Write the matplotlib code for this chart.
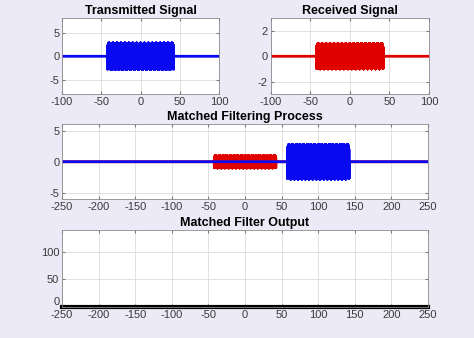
import numpy as np
import matplotlib.pyplot as plt

# values
pulse_edges = [-42, 42]          # where the pulse is on (time units)
tx_amplitude = 2.8               # transmitted pulse peak
rx_amplitude = 1.0               # received pulse peak
template_shift = 100             # where the sliding template sits in the process plot
carrier_period = 0.15            # carrier period of the pulse
scallop_period = 5.0             # ripple seen on the pulse edges
output_x = [-250, 250]
output_y = [0, 0]                # matched filter output at this frame

top_xlim = [-100, 100]
top_xticks = [-100, -50, 0, 50, 100]
tx_ylim = [-8, 8]
tx_yticks = [-5, 0, 5]
rx_ylim = [-3, 3]
rx_yticks = [-2, 0, 2]
wide_xlim = [-250, 250]
wide_xticks = [-250, -200, -150, -100, -50, 0, 50, 100, 150, 200, 250]
proc_ylim = [-6, 6]
proc_yticks = [-5, 0, 5]
out_ylim = [0, 140]
out_yticks = [0, 50, 100]

BLUE = '#0a0af0'
RED = '#e00000'
BG = '#ECEAF6'
TICK_COLOR = '#3a3a3a'

plt.rcParams['font.family'] = ['Liberation Sans', 'DejaVu Sans']
plt.rcParams['axes.unicode_minus'] = False


def pulse(x, amp, center=0.0):
    # sampled carrier, slightly detuned so the sample peaks drift (gives the scalloped edge)
    dt = x[1] - x[0]
    f = (1.0 / carrier_period) * (1 + dt / scallop_period)
    y = amp * np.cos(2 * np.pi * f * (x - center))
    on = (x - center >= pulse_edges[0]) & (x - center <= pulse_edges[1])
    return np.where(on, y, 0.0)


def style(ax, xlim, xticks, ylim, yticks, title):
    ax.set_facecolor('white')
    ax.set_xlim(xlim)
    ax.set_ylim(ylim)
    ax.set_xticks(xticks)
    ax.set_yticks(yticks)
    ax.grid(True, color='#dcdcdc', linewidth=0.6)
    ax.set_axisbelow(True)
    ax.tick_params(direction='in', top=True, right=True, length=2.5,
                   labelsize=8, colors='#7a7a7a', labelcolor=TICK_COLOR, pad=2)
    for s in ax.spines.values():
        s.set_color('#8a8a8a')
        s.set_linewidth(0.6)
    ax.set_title(title, fontsize=9, fontweight='bold', pad=3)


fig = plt.figure(figsize=(4.74, 3.38), dpi=100, facecolor=BG)

ax_tx = fig.add_axes([0.131, 0.721, 0.331, 0.225])
ax_rx = fig.add_axes([0.571, 0.721, 0.334, 0.225])
ax_proc = fig.add_axes([0.131, 0.411, 0.772, 0.221])
ax_out = fig.add_axes([0.131, 0.092, 0.772, 0.228])

t = np.arange(top_xlim[0], top_xlim[1] + 0.05, 0.05)
ax_tx.plot(t, pulse(t, tx_amplitude), color=BLUE, lw=2.0)
style(ax_tx, top_xlim, top_xticks, tx_ylim, tx_yticks, 'Transmitted Signal')

ax_rx.plot(t, pulse(t, rx_amplitude), color=RED, lw=2.0)
style(ax_rx, top_xlim, top_xticks, rx_ylim, rx_yticks, 'Received Signal')

tw = np.arange(wide_xlim[0], wide_xlim[1] + 0.05, 0.05)
ax_proc.plot(tw, pulse(tw, rx_amplitude), color=RED, lw=2.0)
ax_proc.plot(tw, pulse(tw, tx_amplitude, center=template_shift), color=BLUE, lw=2.0)
style(ax_proc, wide_xlim, wide_xticks, proc_ylim, proc_yticks, 'Matched Filtering Process')

ax_out.plot(output_x, output_y, color='black', lw=3, clip_on=False)
style(ax_out, wide_xlim, wide_xticks, out_ylim, out_yticks, 'Matched Filter Output')
ax_out.get_yticklabels()[0].set_va('bottom')

fig.savefig('out.png', dpi=100, facecolor=BG)
